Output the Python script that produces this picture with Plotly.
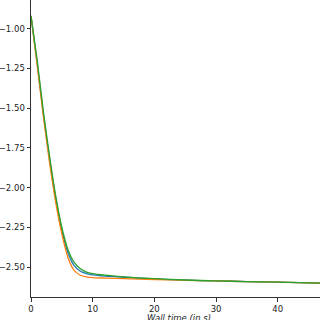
import plotly.graph_objects as go

t = [0, 1, 2, 3, 4, 5, 6, 7, 8, 9, 10, 12, 15, 20, 25, 30, 35, 40, 47]
blue = [-0.92, -1.215, -1.535, -1.82, -2.07, -2.27, -2.41, -2.49, -2.525, -2.54, -2.548, -2.556, -2.563, -2.574, -2.581, -2.586, -2.59, -2.594, -2.60]
orange = [-0.92, -1.23, -1.55, -1.84, -2.09, -2.29, -2.44, -2.52, -2.55, -2.56, -2.565, -2.568, -2.572, -2.577, -2.582, -2.586, -2.59, -2.594, -2.60]
green = [-0.92, -1.20, -1.52, -1.80, -2.05, -2.25, -2.39, -2.47, -2.51, -2.53, -2.54, -2.55, -2.56, -2.572, -2.58, -2.586, -2.59, -2.594, -2.60]

series = [("blue", blue, "#1f77b4"), ("orange", orange, "#ff7f0e"), ("green", green, "#2ca02c")]

fig = go.Figure()
for name, ys, c in series:
    fig.add_trace(go.Scatter(x=t, y=ys, mode="lines", name=name,
                             line=dict(color=c, width=1.3, shape="spline", smoothing=0.6)))

axis_common = dict(showgrid=False, zeroline=False, showline=True, linecolor="#333",
                   linewidth=1, ticks="outside", ticklen=3.5, tickcolor="#333",
                   automargin=False,
                   tickfont=dict(family="DejaVu Sans", size=8.5, color="#222"))
fig.update_layout(
    width=320, height=320,
    margin=dict(l=31, r=0, t=0, b=23, autoexpand=False),
    paper_bgcolor="white", plot_bgcolor="white",
    showlegend=False,
    xaxis=dict(range=[0, 46.85], tickvals=[0, 10, 20, 30, 40], **axis_common),
    yaxis=dict(range=[-2.687, -0.82], tickvals=[-1.0, -1.25, -1.5, -1.75, -2.0, -2.25, -2.5],
               tickformat=".2f", **axis_common),
    annotations=[dict(text="<i>Wall time (in s)</i>", xref="paper", yref="paper",
                      x=0.513, y=-0.071, showarrow=False, xanchor="center", yanchor="middle",
                      font=dict(family="DejaVu Sans", size=8.5, color="#222"))],
)
fig.write_html("out.html")
